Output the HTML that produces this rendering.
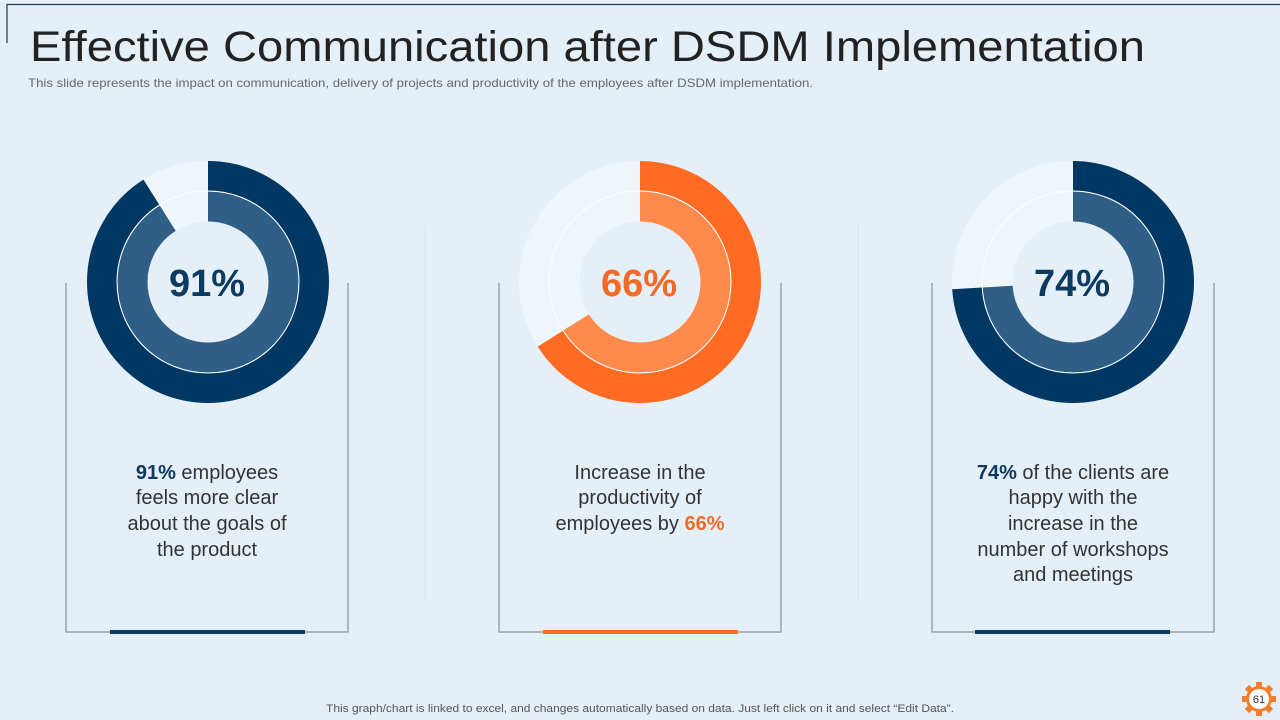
<!DOCTYPE html>
<html><head><meta charset="utf-8"><style>
html,body{margin:0;padding:0;width:1280px;height:720px;overflow:hidden;background:#e5eff8;}
svg{display:block}
text{font-family:"Liberation Sans",sans-serif}
</style></head><body>
<svg width="1280" height="720" viewBox="0 0 1280 720">
<rect width="1280" height="720" fill="#e5eff8"/>
<path d="M7 43 V4.5 H1280" fill="none" stroke="#1f3550" stroke-width="1.2"/>
<text x="30" y="61" font-size="43" fill="#222" textLength="1115" lengthAdjust="spacingAndGlyphs">Effective Communication after DSDM Implementation</text>
<text x="28" y="87" font-size="12" fill="#666" textLength="785" lengthAdjust="spacingAndGlyphs">This slide represents the impact on communication, delivery of projects and productivity of the employees after DSDM implementation.</text>

<g stroke="#d8e3ec" stroke-width="1">
<line x1="425" y1="225" x2="425" y2="600"/><line x1="858" y1="225" x2="858" y2="600"/>
</g>
<g fill="none" stroke="#8a8f94" stroke-width="1.2">
<path d="M66 283 V632 H348 V283"/>
<path d="M499 283 V632 H781 V283"/>
<path d="M932 283 V632 H1214 V283"/>
</g>
<rect x="110" y="630" width="195" height="4" fill="#0d3a60"/>
<rect x="543" y="630" width="195" height="4" fill="#ff6b22"/>
<rect x="975" y="630" width="195" height="4" fill="#0d3a60"/>

<g transform="translate(208,282) rotate(-90)">
<circle r="106" fill="none" stroke="#eef5fb" stroke-width="30"/>
<circle r="75.5" fill="none" stroke="#eef5fb" stroke-width="30"/>
<circle r="106" fill="none" stroke="#003863" stroke-width="30" stroke-dasharray="606.1 1000"/>
<circle r="75.5" fill="none" stroke="#2f5f86" stroke-width="30" stroke-dasharray="431.7 1000"/>
<circle r="91" fill="none" stroke="#ffffff" stroke-width="1"/>
</g>
<text x="207" y="296" font-size="38" font-weight="bold" fill="#0d3a60" text-anchor="middle">91%</text>

<g transform="translate(640,282) rotate(-90)">
<circle r="106" fill="none" stroke="#eef5fb" stroke-width="30"/>
<circle r="75.5" fill="none" stroke="#eef5fb" stroke-width="30"/>
<circle r="106" fill="none" stroke="#ff6b22" stroke-width="30" stroke-dasharray="439.6 1000"/>
<circle r="75.5" fill="none" stroke="#ff8a4c" stroke-width="30" stroke-dasharray="313.1 1000"/>
<circle r="91" fill="none" stroke="#ffffff" stroke-width="1"/>
</g>
<text x="639" y="296" font-size="38" font-weight="bold" fill="#f26a25" text-anchor="middle">66%</text>

<g transform="translate(1073,282) rotate(-90)">
<circle r="106" fill="none" stroke="#eef5fb" stroke-width="30"/>
<circle r="75.5" fill="none" stroke="#eef5fb" stroke-width="30"/>
<circle r="106" fill="none" stroke="#003863" stroke-width="30" stroke-dasharray="492.9 1000"/>
<circle r="75.5" fill="none" stroke="#2f5f86" stroke-width="30" stroke-dasharray="351.0 1000"/>
<circle r="91" fill="none" stroke="#ffffff" stroke-width="1"/>
</g>
<text x="1072" y="296" font-size="38" font-weight="bold" fill="#0d3a60" text-anchor="middle">74%</text>

<g font-size="20" fill="#333" text-anchor="middle">
<text x="207" y="479"><tspan font-weight="bold" fill="#0d3a60">91%</tspan> employees</text>
<text x="207" y="504">feels more clear</text>
<text x="207" y="530">about the goals of</text>
<text x="207" y="556">the product</text>

<text x="640" y="479">Increase in the</text>
<text x="640" y="504">productivity of</text>
<text x="640" y="530">employees by <tspan font-weight="bold" fill="#f26a25">66%</tspan></text>

<text x="1073" y="479"><tspan font-weight="bold" fill="#0d3a60">74%</tspan> of the clients are</text>
<text x="1073" y="504">happy with the</text>
<text x="1073" y="530">increase in the</text>
<text x="1073" y="556">number of workshops</text>
<text x="1073" y="581">and meetings</text>
</g>

<text x="640" y="712" font-size="11" fill="#555" text-anchor="middle" textLength="628" lengthAdjust="spacingAndGlyphs">This graph/chart is linked to excel, and changes automatically based on data. Just left click on it and select “Edit Data”.</text>

<g transform="translate(1259,699)">
<circle r="13" fill="#f07f2c"/>
<g fill="#f07f2c">
<rect x="-3" y="-17" width="6" height="34"/>
<rect x="-3" y="-17" width="6" height="34" transform="rotate(45)"/>
<rect x="-3" y="-17" width="6" height="34" transform="rotate(90)"/>
<rect x="-3" y="-17" width="6" height="34" transform="rotate(135)"/>
</g>
<circle r="10" fill="#ffffff"/>
<text x="0" y="4" font-size="11" fill="#333" text-anchor="middle">61</text>
</g>
</svg>
</body></html>
